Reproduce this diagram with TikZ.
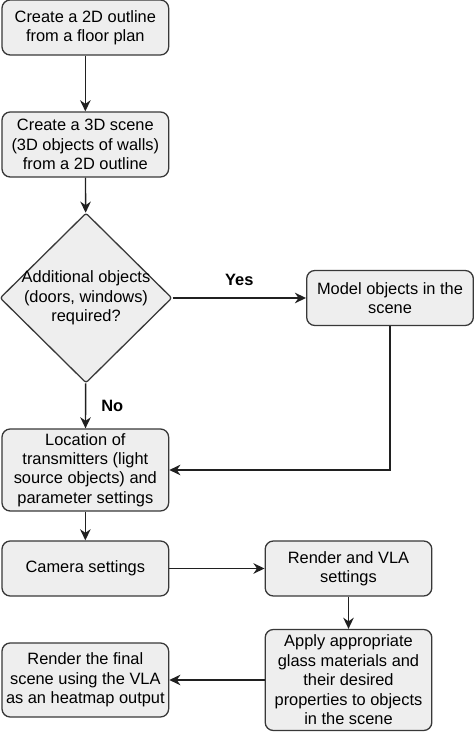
\documentclass[tikz,border=0pt]{standalone}
\usepackage{fontspec}
\setmainfont{Liberation Sans}
\usepackage{tikz}
\usetikzlibrary{shapes,arrows.meta,positioning}
\definecolor{stepfill}{HTML}{EEEEEE}
\definecolor{stepline}{HTML}{383838}
\definecolor{arrowline}{HTML}{202020}
\tikzset{%
    flow_text/.style={%
        align=center, font=\fontsize{14}{16.6}\selectfont, inner sep=0pt
    },
    flow_step/.style={%
        rectangle, rounded corners=7pt, minimum width=5cm, minimum height=1.65cm, text centered, draw=stepline, line width=1.1pt, fill=stepfill, flow_text, inner xsep=0.5pt
    },
    flow_decision/.style={%
        diamond, rounded corners=2pt, draw=stepline, line width=1.1pt, fill=stepfill, minimum width=5.16cm, minimum height=5.1cm, inner sep=0pt
    },
    flow_label/.style={%
        font=\fontsize{14}{16.6}\selectfont\bfseries, inner sep=0pt
    },
    flow_arrow/.style={%
        -{Stealth[length=9.5pt,width=9pt]}, line width=1.2pt, draw=arrowline
    },
}
\begin{document}
\begin{tikzpicture}
    \useasboundingbox (0,0) rectangle (14.22,21.96);
    \node[flow_step] (outline) at (2.56,21.135) {Create a 2D outline\\from a floor plan};
    \node[flow_step, minimum height=1.95cm] (scene) at (2.56,17.625) {Create a 3D scene\\(3D objects of walls)\\from a 2D outline};
    \node[flow_decision, label={[flow_text]center:{Additional objects\\(doors, windows)\\required?}}] (extra) at (2.58,13.02) {};
    \node[flow_step] (model) at (11.7,13.02) {Model objects in the\\scene};
    \node[flow_step, minimum height=2.46cm] (location) at (2.56,7.86) {Location of\\transmitters (light\\source objects) and\\parameter settings};
    \node[flow_step] (camera) at (2.56,4.905) {Camera settings};
    \node[flow_step] (render) at (10.455,4.905) {Render and VLA\\settings};
    \node[flow_step, minimum height=3.03cm] (apply) at (10.455,1.56) {Apply appropriate\\glass materials and\\their desired\\properties to objects\\in the scene};
    \node[flow_step, minimum height=2.22cm] (final) at (2.56,1.56) {Render the final\\scene using the VLA\\as an heatmap output};

    \draw [flow_arrow] (outline) -- (scene);
    \draw [flow_arrow] (scene) -- (extra);
    \draw [flow_arrow] (extra) -- (model) node[midway, above=0.36cm, flow_label]{Yes};
    \draw [flow_arrow] (extra) -- (location) node[midway, right=0.45cm, flow_label]{No};
    \draw [flow_arrow] (model) |- (location);
    \draw [flow_arrow] (location) -- (camera);
    \draw [flow_arrow] (camera) -- (render);
    \draw [flow_arrow] (render) -- (apply);
    \draw [flow_arrow] (apply) -- (final);
\end{tikzpicture}
\end{document}
